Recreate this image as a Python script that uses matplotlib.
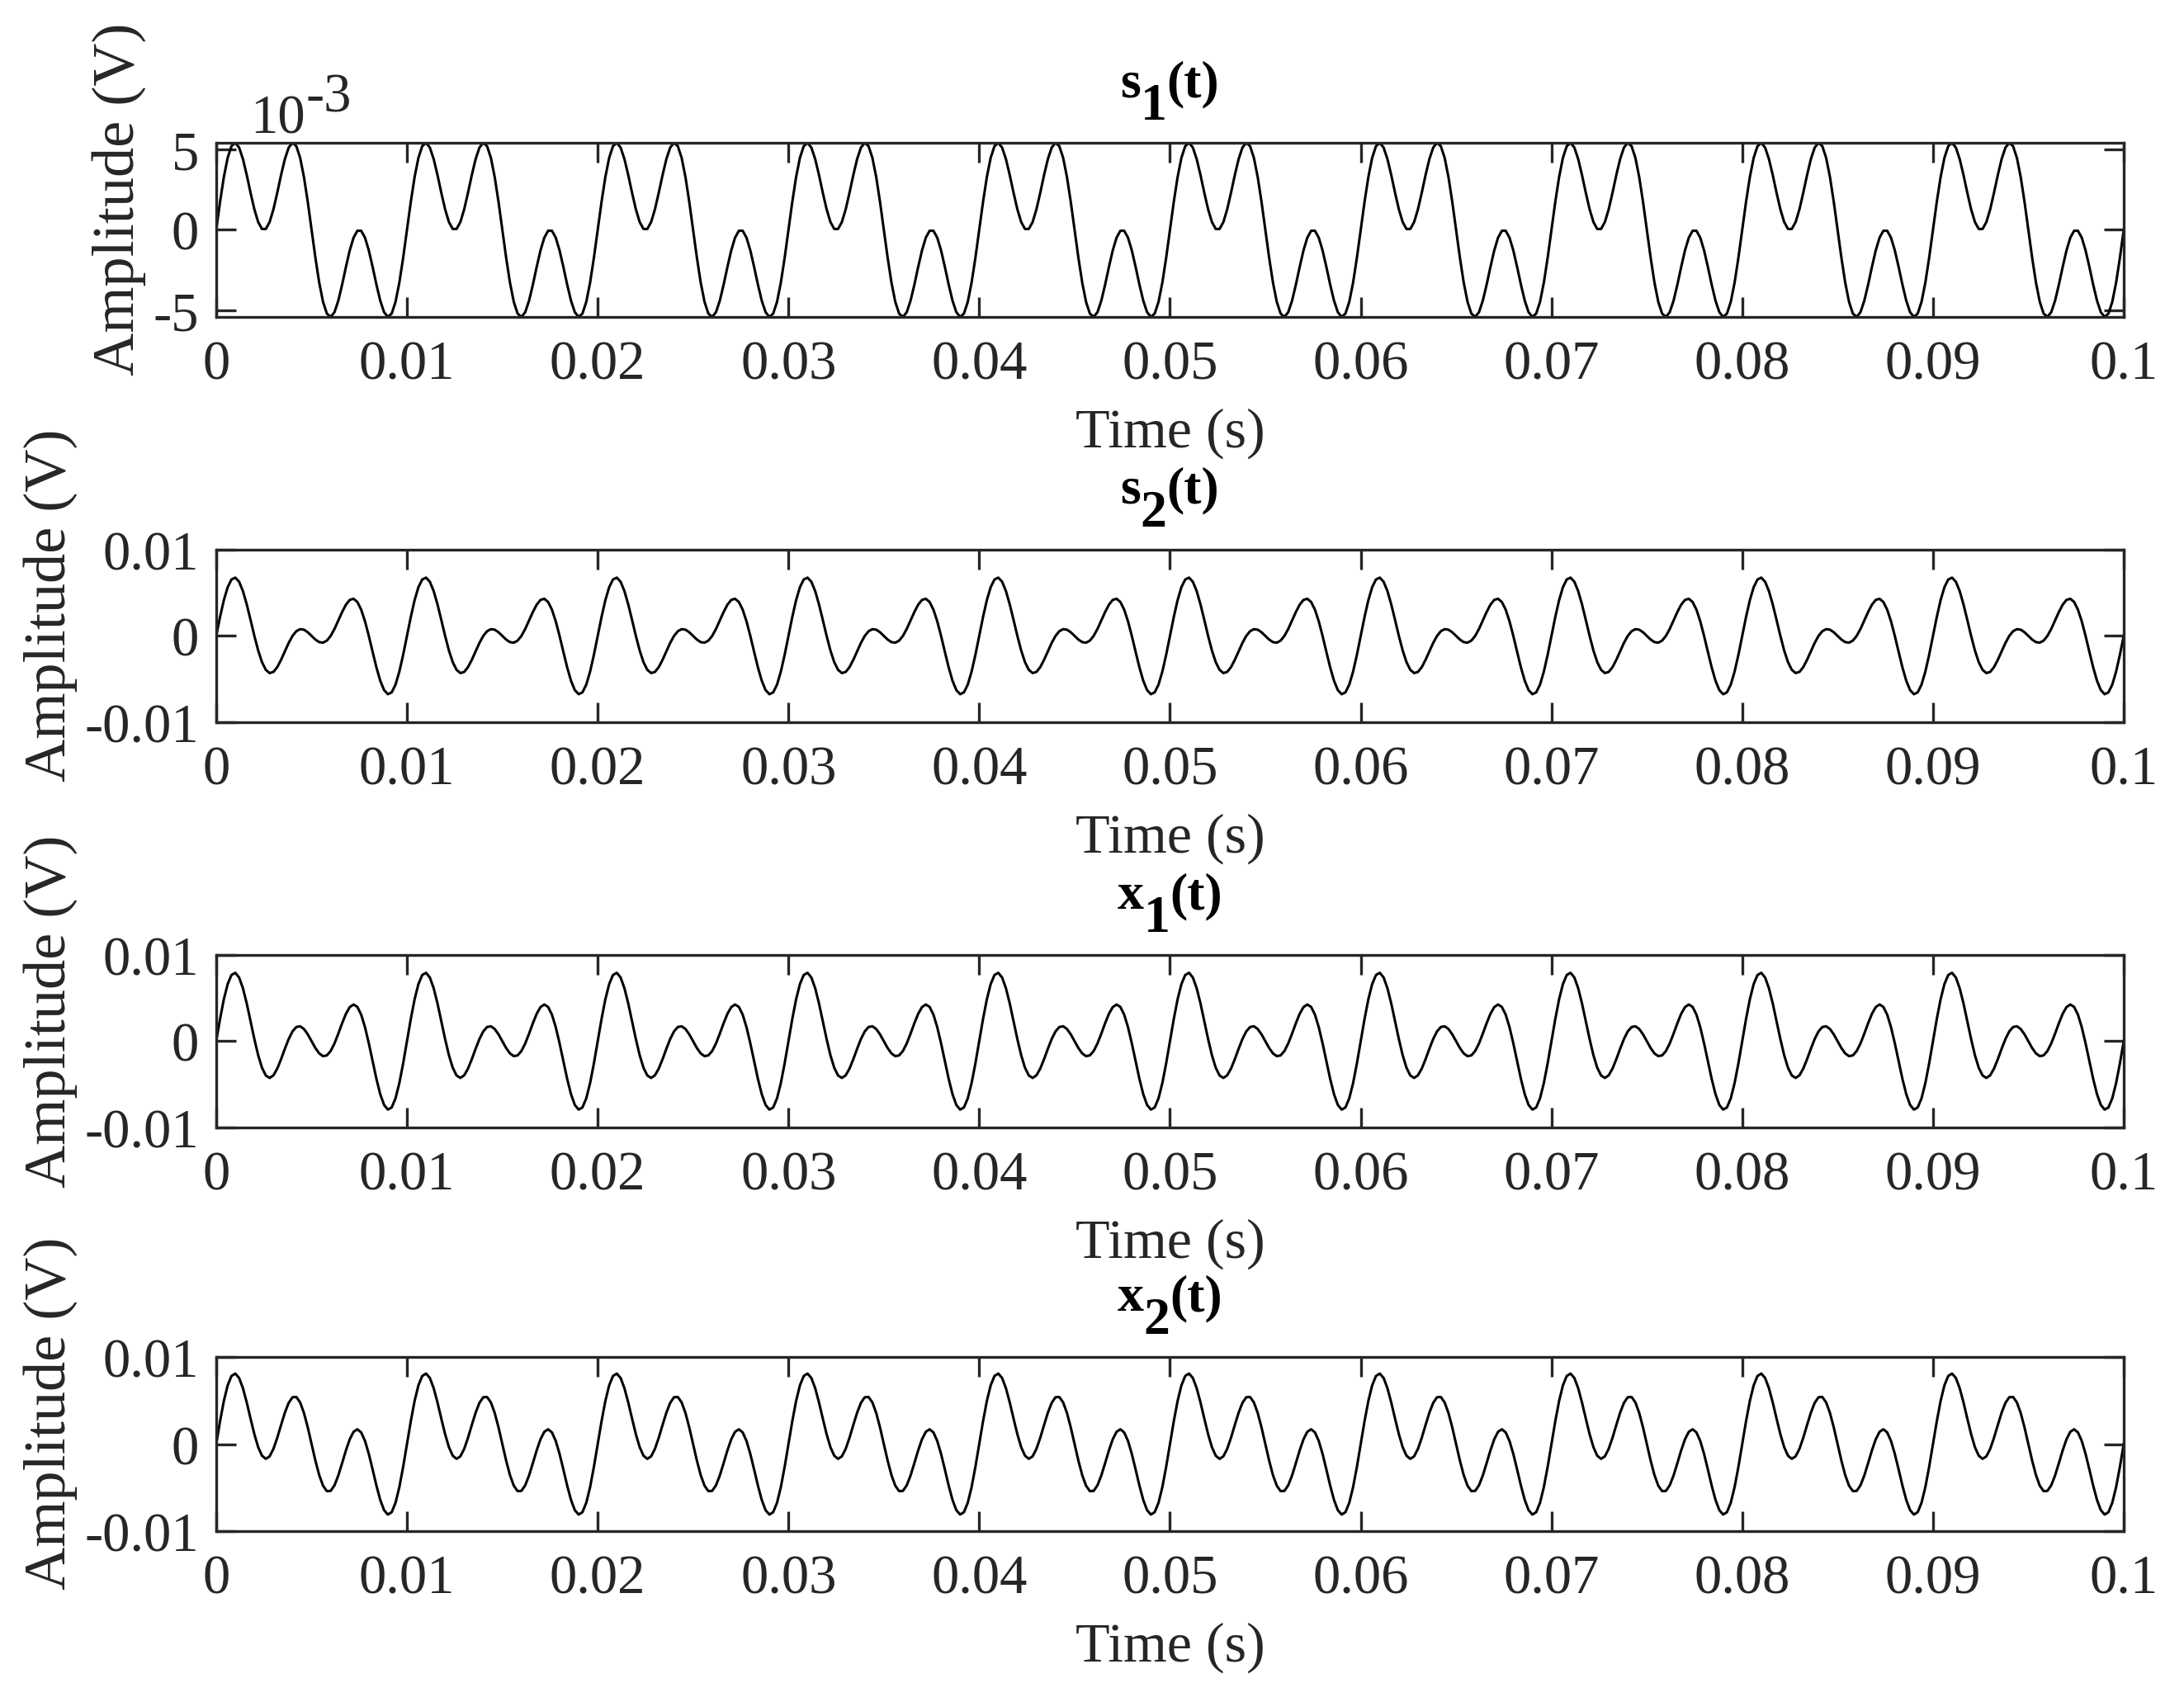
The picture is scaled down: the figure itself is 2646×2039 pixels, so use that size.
import numpy as np
import matplotlib
matplotlib.use("Agg")
import matplotlib.pyplot as plt

s1_period = [0, 1.727, 3.266, 4.455, 5.179, 5.386, 5.093, 4.383, 3.394, 2.296,
             1.272, 0.483, 0.055, 0.055, 0.483, 1.272, 2.296, 3.394, 4.383, 5.093,
             5.386, 5.179, 4.455, 3.266, 1.727, 0, -1.727, -3.266, -4.455, -5.179,
             -5.386, -5.093, -4.383, -3.394, -2.296, -1.272, -0.483, -0.055, -0.055, -0.483,
             -1.272, -2.296, -3.394, -4.383, -5.093, -5.386, -5.179, -4.455, -3.266, -1.727]
s2_period = [0, 2.190, 4.140, 5.642, 6.540, 6.753, 6.278, 5.198, 3.657, 1.852,
             0, -1.691, -3.042, -3.932, -4.304, -4.173, -3.618, -2.767, -1.777, -0.808,
             0, 0.546, 0.782, 0.720, 0.424, 0, -0.424, -0.720, -0.782, -0.546,
             0, 0.808, 1.777, 2.767, 3.618, 4.173, 4.304, 3.932, 3.042, 1.691,
             0, -1.852, -3.657, -5.198, -6.278, -6.753, -6.540, -5.642, -4.140, -2.190]
x1_period = [0, 2.568, 4.856, 6.617, 7.673, 7.927, 7.384, 6.143, 4.379, 2.328,
             0.244, -1.626, -3.078, -3.972, -4.254, -3.953, -3.174, -2.081, -0.871, 0.259,
             1.137, 1.644, 1.730, 1.416, 0.793, 0, -0.793, -1.416, -1.730, -1.644,
             -1.137, -0.259, 0.871, 2.081, 3.174, 3.953, 4.254, 3.972, 3.078, 1.626,
             -0.244, -2.328, -4.379, -6.143, -7.384, -7.927, -7.673, -6.617, -4.856, -2.568]
x2_period = [0, 2.617, 4.948, 6.742, 7.821, 8.099, 7.592, 6.421, 4.781, 2.928,
             1.132, -0.357, -1.339, -1.698, -1.410, -0.550, 0.725, 2.194, 3.612, 4.738,
             5.379, 5.406, 4.784, 3.570, 1.906, 0, -1.906, -3.570, -4.784, -5.406,
             -5.379, -4.738, -3.612, -2.194, -0.725, 0.550, 1.410, 1.698, 1.339, 0.357,
             -1.132, -2.928, -4.781, -6.421, -7.592, -8.099, -7.821, -6.742, -4.948, -2.617]

n_periods = 10
names = ["s", "s", "x", "x"]
subs = ["1", "2", "1", "2"]
xticks = [0, 0.01, 0.02, 0.03, 0.04, 0.05, 0.06, 0.07, 0.08, 0.09, 0.1]
xticklabels = ["0", "0.01", "0.02", "0.03", "0.04", "0.05", "0.06", "0.07", "0.08", "0.09", "0.1"]

t = np.linspace(0, 0.1, len(s1_period) * n_periods + 1)


def full_trace(period):
    # repeat the read period and close it at t = 0.1
    v = np.tile(np.array(period), n_periods)
    return np.append(v, period[0]) * 1e-3


traces = [full_trace(p) for p in (s1_period, s2_period, x1_period, x2_period)]

plt.rcParams["font.family"] = ["Liberation Serif", "DejaVu Serif"]
plt.rcParams["axes.unicode_minus"] = False

dark = "#262626"
fs = 24
tfs = 23
# bold glyph widths (em) used to centre the hand-built title
em_w = {"s": 0.389, "x": 0.5}

fig = plt.figure(figsize=(13.23, 10.2), dpi=200)
rects = [[0.0990, 0.8113, 0.8734, 0.1034],
         [0.0990, 0.5706, 0.8734, 0.1025],
         [0.0990, 0.3299, 0.8734, 0.1025],
         [0.0990, 0.0902, 0.8734, 0.1034]]

for i, (rect, y) in enumerate(zip(rects, traces)):
    ax = fig.add_axes(rect)
    ax.plot(t, y, color="black", lw=1.1)
    ax.set_xlim(0, 0.1)
    ax.set_xticks(xticks)
    ax.set_xticklabels(xticklabels)
    if i == 0:
        ax.set_ylim(y.min(), y.max())
        ax.set_yticks([-5e-3, 0, 5e-3])
        ax.set_yticklabels(["-5", "0", "5"])
        t10 = ax.text(0.018, 1.06, "10", transform=ax.transAxes, fontsize=fs,
                      color=dark, va="baseline", ha="left")
        ax.annotate("-3", xy=(1.0, 0.42), xycoords=t10, fontsize=fs,
                    color=dark, va="bottom", ha="left")
    else:
        ax.set_ylim(-0.01, 0.01)
        ax.set_yticks([-0.01, 0, 0.01])
        ax.set_yticklabels(["-0.01", "0", "0.01"])
    ax.tick_params(direction="in", top=True, right=True, length=8.6, width=1.2,
                   labelsize=fs, colors=dark)
    ax.tick_params(axis="x", pad=10)
    ax.tick_params(axis="y", pad=7.5)
    for sp in ax.spines.values():
        sp.set_linewidth(1.2)
        sp.set_color(dark)
    ax.set_xlabel("Time (s)", fontsize=24.5, color=dark, labelpad=7.5)
    ax.set_ylabel("Amplitude (V)", fontsize=26, color=dark, labelpad=3)
    ax.yaxis.label.set_y(0.68)

    # title: letter, full-size lowered index, then (t)
    total = (em_w[names[i]] + 0.5 + 1.0) * tfs
    base = ax.annotate(names[i], xy=(0.5, 1), xycoords="axes fraction",
                       xytext=(-total / 2, 20.5), textcoords="offset points",
                       ha="left", va="baseline", fontsize=tfs, fontweight="bold")
    sub = ax.annotate(subs[i], xy=(1, 1), xycoords=(base, "axes fraction"),
                      xytext=(0, 10.5), textcoords="offset points",
                      ha="left", va="baseline", fontsize=tfs, fontweight="bold")
    ax.annotate("(t)", xy=(1, 1), xycoords=(sub, "axes fraction"),
                xytext=(0, 20.5), textcoords="offset points",
                ha="left", va="baseline", fontsize=tfs, fontweight="bold")

fig.savefig("out.png", dpi=200)
